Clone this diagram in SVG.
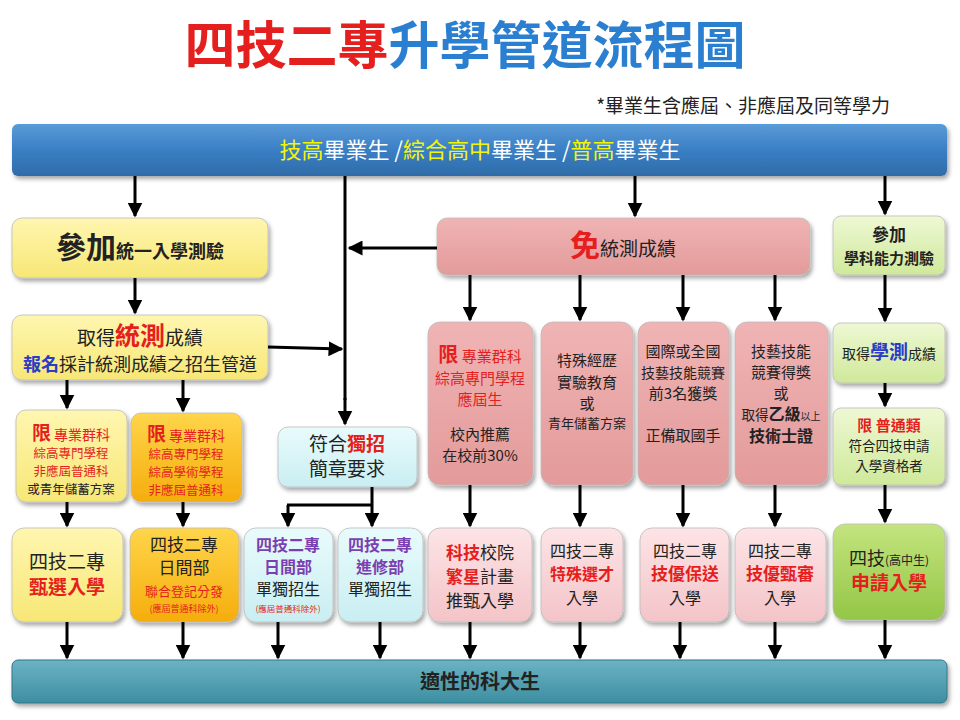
<svg xmlns="http://www.w3.org/2000/svg" width="960" height="720" viewBox="0 0 960 720">
<defs>
<marker id="ah" viewBox="0 0 10 10" refX="9" refY="5" markerWidth="5" markerHeight="5" orient="auto"><path d="M0,0 L10,5 L0,10 z" fill="#000"/></marker>
<linearGradient id="gBlue" x1="0" y1="0" x2="0" y2="1"><stop offset="0" stop-color="#5a9bd8"/><stop offset="0.5" stop-color="#3a7fc4"/><stop offset="1" stop-color="#2f6ca9"/></linearGradient>
<linearGradient id="gTeal" x1="0" y1="0" x2="0" y2="1"><stop offset="0" stop-color="#6cb3c4"/><stop offset="1" stop-color="#3d8ea1"/></linearGradient>
<linearGradient id="gY" x1="0" y1="0" x2="0" y2="1"><stop offset="0" stop-color="#fff6b0"/><stop offset="1" stop-color="#f7e776"/></linearGradient>
<linearGradient id="gO" x1="0" y1="0" x2="0" y2="1"><stop offset="0" stop-color="#ffd54a"/><stop offset="1" stop-color="#f5ad0c"/></linearGradient>
<linearGradient id="gP" x1="0" y1="0" x2="0" y2="1"><stop offset="0" stop-color="#f0b4b4"/><stop offset="1" stop-color="#e39a9a"/></linearGradient>
<linearGradient id="gLP" x1="0" y1="0" x2="0" y2="1"><stop offset="0" stop-color="#fde4e6"/><stop offset="1" stop-color="#f3c4c8"/></linearGradient>
<linearGradient id="gC" x1="0" y1="0" x2="0" y2="1"><stop offset="0" stop-color="#e9fbfc"/><stop offset="1" stop-color="#c9eef2"/></linearGradient>
<linearGradient id="gG" x1="0" y1="0" x2="0" y2="1"><stop offset="0" stop-color="#eef8d4"/><stop offset="1" stop-color="#cfe99a"/></linearGradient>
<linearGradient id="gG2" x1="0" y1="0" x2="0" y2="1"><stop offset="0" stop-color="#c3e47e"/><stop offset="1" stop-color="#93c646"/></linearGradient>
<filter id="sh" x="-10%" y="-10%" width="130%" height="130%"><feDropShadow dx="2" dy="3" stdDeviation="2" flood-color="#000" flood-opacity="0.35"/></filter>
</defs>
<style>
text{font-family:"Noto Sans CJK TC","Noto Sans CJK SC",sans-serif;text-anchor:middle;fill:#222}
.r{fill:#e51e1e}.b{fill:#2a3cc8}.p{fill:#7a3fb0}.y{fill:#f5f500}.w{fill:#fff}
.bx{filter:url(#sh);stroke:#bbb;stroke-width:0.8}
.c{stroke:#000;stroke-width:3;fill:none}
.a{stroke:#000;stroke-width:3;fill:none;marker-end:url(#ah)}
</style>
<rect width="960" height="720" fill="#fff"/>
<text x="465" y="64" font-size="51" font-weight="bold"><tspan class="r">四技二專</tspan><tspan fill="#2b7fd0">升學管道流程圖</tspan></text>
<text x="890" y="113" font-size="19" fill="#33475b" style="text-anchor:end">*畢業生含應屆、非應屆及同等學力</text>

<g id="top"><rect x="12" y="124" width="935" height="52" rx="6" fill="url(#gBlue)" filter="url(#sh)"/>
<text x="480" y="158" font-size="22" class="w"><tspan class="y">技高</tspan><tspan class="w">畢業生 /</tspan><tspan class="y">綜合高中</tspan><tspan class="w">畢業生 /</tspan><tspan class="y">普高</tspan><tspan class="w">畢業生</tspan></text></g>

<g id="n1"><rect class="bx" x="12" y="218" width="256" height="60" rx="10" fill="url(#gY)"/><text x="140" y="258" font-size="18" font-weight="bold"><tspan font-size="30">參加</tspan>統一入學測驗</text></g>
<g id="n2"><rect class="bx" x="437" y="218" width="373" height="57" rx="10" fill="url(#gP)"/><text x="623" y="256" font-size="19"><tspan class="r" font-size="30" font-weight="bold">免</tspan>統測成績</text></g>
<g id="n3"><rect class="bx" x="833" y="216" width="112" height="59" rx="8" fill="url(#gG)"/><text x="889" y="241" font-size="17" font-weight="bold">參加</text><text x="889" y="264" font-size="15" font-weight="bold">學科能力測驗</text></g>
<g id="n4"><rect class="bx" x="12" y="315" width="256" height="65" rx="10" fill="url(#gY)"/><text x="140" y="345" font-size="19">取得<tspan class="r" font-size="25" font-weight="bold">統測</tspan>成績</text><text x="140" y="371" font-size="18"><tspan class="b" font-weight="bold">報名</tspan>採計統測成績之招生管道</text></g>

<g id="p1"><rect class="bx" x="428" y="322" width="105" height="163" rx="12" fill="url(#gP)"/><text x="480" y="362" font-size="15" class="r"><tspan font-size="20" font-weight="bold">限</tspan> 專業群科</text><text x="480" y="384" font-size="15" class="r">綜高專門學程</text><text x="480" y="405" font-size="15" class="r">應屆生</text><text x="480" y="440" font-size="15">校內推薦</text><text x="480" y="461" font-size="15">在校前30%</text></g>
<g id="p2"><rect class="bx" x="541" y="322" width="92" height="163" rx="12" fill="url(#gP)"/><text x="587" y="366" font-size="15">特殊經歷</text><text x="587" y="388" font-size="15">實驗教育</text><text x="587" y="409" font-size="15">或</text><text x="587" y="428" font-size="13">青年儲蓄方案</text></g>
<g id="p3"><rect class="bx" x="638" y="322" width="91" height="163" rx="12" fill="url(#gP)"/><text x="683" y="357" font-size="15">國際或全國</text><text x="683" y="378" font-size="14">技藝技能競賽</text><text x="683" y="399" font-size="15">前3名獲獎</text><text x="683" y="441" font-size="15">正備取國手</text></g>
<g id="p4"><rect class="bx" x="735" y="322" width="93" height="163" rx="12" fill="url(#gP)"/><text x="781" y="357" font-size="15">技藝技能</text><text x="781" y="378" font-size="15">競賽得獎</text><text x="781" y="399" font-size="15">或</text><text x="781" y="420" font-size="13.5">取得<tspan font-size="16" font-weight="bold">乙級</tspan><tspan font-size="10">以上</tspan></text><text x="781" y="442" font-size="16" font-weight="bold">技術士證</text></g>
<g id="g1"><rect class="bx" x="833" y="323" width="112" height="60" rx="8" fill="url(#gG)"/><text x="889" y="359" font-size="14">取得<tspan class="b" font-size="19" font-weight="bold">學測</tspan>成績</text></g>
<g id="g2"><rect class="bx" x="833" y="408" width="112" height="77" rx="8" fill="url(#gG)"/><text x="889" y="431" font-size="15" class="r" font-weight="bold">限  普通類</text><text x="889" y="451" font-size="13.5">符合四技申請</text><text x="889" y="471" font-size="13.5">入學資格者</text></g>

<g id="y1"><rect class="bx" x="16" y="410" width="111" height="92" rx="10" fill="url(#gY)"/><text x="71" y="440" font-size="14" class="r"><tspan font-size="19" font-weight="bold">限</tspan> 專業群科</text><text x="71" y="458" font-size="12.5" class="r">綜高專門學程</text><text x="71" y="476" font-size="12.5" class="r">非應屆普通科</text><text x="71" y="494" font-size="12.5">或青年儲蓄方案</text></g>
<g id="o1"><rect class="bx" x="131" y="413" width="111" height="89" rx="10" fill="url(#gO)"/><text x="186" y="441" font-size="14" class="r"><tspan font-size="19" font-weight="bold">限</tspan> 專業群科</text><text x="186" y="459" font-size="12.5" class="r">綜高專門學程</text><text x="186" y="477" font-size="12.5" class="r">綜高學術學程</text><text x="186" y="495" font-size="12.5" class="r">非應屆普通科</text></g>
<g id="c1"><rect class="bx" x="278" y="427" width="139" height="60" rx="10" fill="url(#gC)"/><text x="347" y="451" font-size="19">符合<tspan class="r" font-weight="bold">獨招</tspan></text><text x="347" y="476" font-size="19">簡章要求</text></g>

<g id="b1"><rect class="bx" x="12" y="528" width="111" height="94" rx="12" fill="url(#gY)"/><text x="67" y="569" font-size="19">四技二專</text><text x="67" y="594" font-size="19" class="r" font-weight="bold">甄選入學</text></g>
<g id="b2"><rect class="bx" x="130" y="528" width="109" height="94" rx="12" fill="url(#gO)"/><text x="184" y="551" font-size="17">四技二專</text><text x="184" y="574" font-size="17">日間部</text><text x="184" y="596" font-size="13" class="r">聯合登記分發</text><text x="184" y="612" font-size="9" class="r">(應屆普通科除外)</text></g>
<g id="b3"><rect class="bx" x="244" y="528" width="89" height="94" rx="12" fill="url(#gC)"/><text x="288" y="551" font-size="16" class="p" font-weight="bold">四技二專</text><text x="288" y="573" font-size="16" class="p" font-weight="bold">日間部</text><text x="288" y="595" font-size="16">單獨招生</text><text x="288" y="612" font-size="8.5" class="r">(應屆普通科除外)</text></g>
<g id="b4"><rect class="bx" x="338" y="528" width="85" height="94" rx="12" fill="url(#gC)"/><text x="380" y="551" font-size="16" class="p" font-weight="bold">四技二專</text><text x="380" y="573" font-size="16" class="p" font-weight="bold">進修部</text><text x="380" y="595" font-size="16">單獨招生</text></g>
<g id="b5"><rect class="bx" x="428" y="528" width="104" height="94" rx="12" fill="url(#gLP)"/><text x="480" y="559" font-size="17"><tspan class="r" font-weight="bold">科技</tspan>校院</text><text x="480" y="583" font-size="17"><tspan class="r" font-weight="bold">繁星</tspan>計畫</text><text x="480" y="607" font-size="17">推甄入學</text></g>
<g id="b6"><rect class="bx" x="541" y="528" width="82" height="94" rx="12" fill="url(#gLP)"/><text x="582" y="557" font-size="16">四技二專</text><text x="582" y="580" font-size="16" class="r" font-weight="bold">特殊選才</text><text x="582" y="604" font-size="16">入學</text></g>
<g id="b7"><rect class="bx" x="640" y="528" width="89" height="94" rx="12" fill="url(#gLP)"/><text x="685" y="557" font-size="16">四技二專</text><text x="685" y="580" font-size="17" class="r" font-weight="bold">技優保送</text><text x="685" y="604" font-size="16">入學</text></g>
<g id="b8"><rect class="bx" x="735" y="528" width="91" height="94" rx="12" fill="url(#gLP)"/><text x="780" y="557" font-size="16">四技二專</text><text x="780" y="580" font-size="17" class="r" font-weight="bold">技優甄審</text><text x="780" y="604" font-size="16">入學</text></g>
<g id="b9"><rect class="bx" x="833" y="524" width="112" height="96" rx="12" fill="url(#gG2)"/><text x="889" y="565" font-size="18">四技<tspan font-size="12">(高中生)</tspan></text><text x="889" y="590" font-size="19" class="r" font-weight="bold">申請入學</text></g>

<g id="bottom"><rect x="12" y="660" width="935" height="43" rx="6" fill="url(#gTeal)" filter="url(#sh)" stroke="#2e7688"/><text x="480" y="689" font-size="20" font-weight="bold">適性的科大生</text></g>

<g id="connectors">
<line class="a" x1="135" y1="176" x2="135" y2="216"/>
<line class="c" x1="345" y1="176" x2="345" y2="400"/>
<line class="a" x1="345" y1="398" x2="345" y2="424"/>
<line class="a" x1="635" y1="176" x2="635" y2="216"/>
<line class="a" x1="885" y1="176" x2="885" y2="214"/>
<line class="a" x1="437" y1="248" x2="349" y2="248"/>
<line class="a" x1="268" y1="347" x2="342" y2="349"/>
<line class="a" x1="135" y1="278" x2="135" y2="313"/>
<line class="a" x1="67" y1="380" x2="67" y2="408"/>
<line class="a" x1="183" y1="380" x2="183" y2="411"/>
<line class="a" x1="67" y1="502" x2="67" y2="526"/>
<line class="a" x1="183" y1="502" x2="183" y2="526"/>
<path class="c" d="M372,487 V505 M287,505 H373"/>
<line class="a" x1="288" y1="505" x2="288" y2="526"/>
<line class="a" x1="372" y1="505" x2="372" y2="526"/>
<line class="a" x1="470" y1="275" x2="470" y2="320"/>
<line class="a" x1="580" y1="275" x2="580" y2="320"/>
<line class="a" x1="683" y1="275" x2="683" y2="320"/>
<line class="a" x1="775" y1="275" x2="775" y2="320"/>
<line class="a" x1="885" y1="275" x2="885" y2="321"/>
<line class="a" x1="885" y1="383" x2="885" y2="406"/>
<line class="a" x1="885" y1="485" x2="885" y2="522"/>
<line class="a" x1="470" y1="485" x2="470" y2="526"/>
<line class="a" x1="580" y1="485" x2="580" y2="526"/>
<line class="a" x1="683" y1="485" x2="683" y2="526"/>
<line class="a" x1="775" y1="485" x2="775" y2="526"/>
<line class="a" x1="67" y1="622" x2="67" y2="658"/>
<line class="a" x1="183" y1="622" x2="183" y2="658"/>
<line class="a" x1="278" y1="622" x2="278" y2="658"/>
<line class="a" x1="380" y1="622" x2="380" y2="658"/>
<line class="a" x1="470" y1="622" x2="470" y2="658"/>
<line class="a" x1="580" y1="622" x2="580" y2="658"/>
<line class="a" x1="680" y1="622" x2="680" y2="658"/>
<line class="a" x1="775" y1="622" x2="775" y2="658"/>
<line class="a" x1="885" y1="620" x2="885" y2="658"/>
</g>
</svg>
